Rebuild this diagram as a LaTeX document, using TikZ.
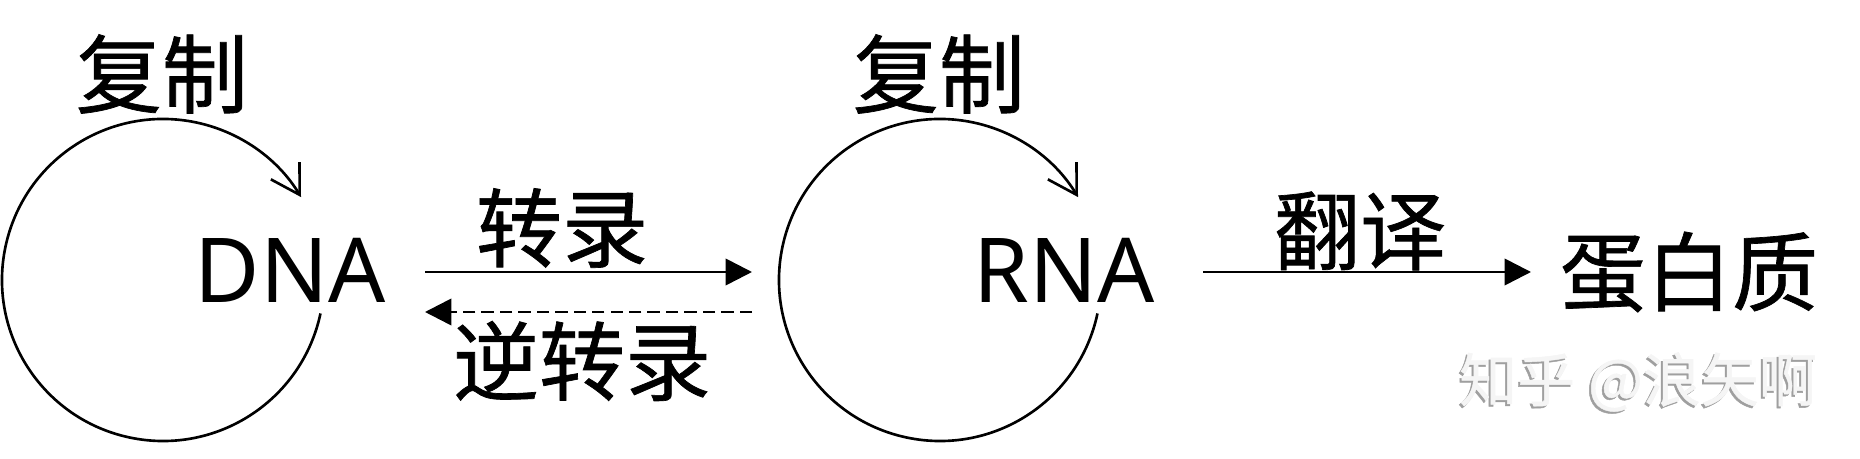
\documentclass[tikz,border=0pt]{standalone}
\usepackage{fontspec}
\setmainfont{Noto Sans}
\newfontfamily\cjk[FakeBold=0.8]{Noto Sans CJK SC}
\usepackage{xcolor}
\usetikzlibrary{arrows.meta}

\begin{document}
\begin{tikzpicture}[
    x = 0.02cm, y = 0.02cm,
    every node/.style = {inner sep=0pt},
    procname/.style = {font=\cjk\fontsize{49}{49}\selectfont},
    molname/.style = {font=\fontsize{51}{51}\selectfont},
    wmtext/.style = {font=\cjk\fontsize{33}{33}\selectfont},
    selfloop/.style = {line width=1.5pt, -{Straight Barb[length=16pt, width=19pt]}},
    flow/.style = {line width=1.5pt, -{Triangle[length=15pt, width=15pt]}},
    backflow/.style = {flow, dash pattern=on 7pt off 3.5pt}
  ]
    \useasboundingbox (0,0) rectangle (1860,459);

    \node[molname] (dna) at (290,189) {DNA};  % DNA
    \node[molname] (rna) at (1064,189) {RNA};  % RNA
    \node[procname] (prot) at (1689,187) {蛋白质};  % 蛋白质

    \node[procname] (repdna) at (162,385) {复制};
    \node[procname] (reprna) at (939,385) {复制};
    \node[procname] (trans) at (562,231) {转录};
    \node[procname] (revtrans) at (582,98) {逆转录};
    \node[procname] (transl) at (1360,228) {翻译};

    % 自我复制的环
    \coordinate (dnaloop) at (163,179);
    \coordinate (rnaloop) at (940,179);
    \draw[selfloop] (dnaloop) ++(-12:161) arc[start angle=-12, end angle=-329, radius=161];
    \draw[selfloop] (rnaloop) ++(-12:161) arc[start angle=-12, end angle=-329, radius=161];

    % 箭头
    \coordinate (trs) at (425,187);
    \coordinate (tre) at (752,187);
    \coordinate (rts) at (752,147);
    \coordinate (rte) at (425,147);
    \coordinate (tls) at (1203,187);
    \coordinate (tle) at (1531,187);
    \draw[flow] (trs) -- (tre);
    \draw[backflow] (rts) -- (rte);
    \draw[flow] (tls) -- (tle);

    % 水印
    \node[wmtext, text=gray!75] (wmshadow) at (1636,75) {知乎 @浪矢啊};
    \node[wmtext, text=gray!8] (wm) at (1638,77) {知乎 @浪矢啊};
\end{tikzpicture}
\end{document}
